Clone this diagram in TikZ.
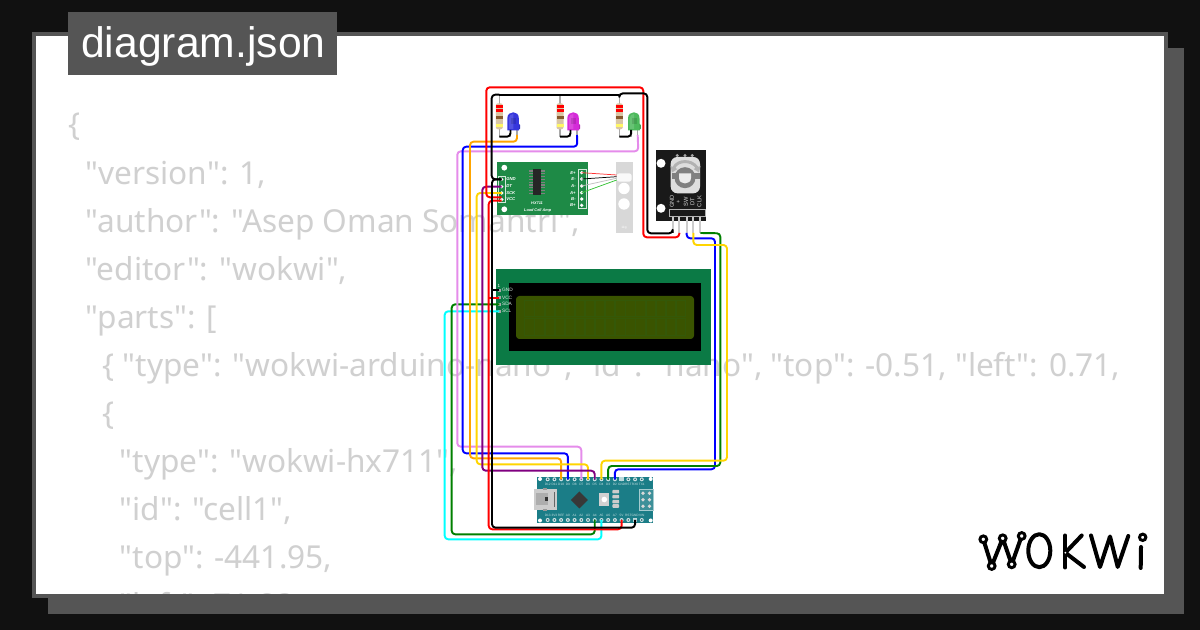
\documentclass[tikz,border=0pt]{standalone}
\usepackage{fontspec}
\setmainfont{Noto Sans}
\newfontfamily\jsonfont{Noto Sans}
\newfontfamily\tabfont{Liberation Sans}
\newfontfamily\tinyfont{Liberation Sans}
\definecolor{pagebg}{HTML}{111111}
\definecolor{framegray}{HTML}{555555}
\definecolor{jsongray}{HTML}{D0D0D0}
\definecolor{wRed}{HTML}{FF0000}
\definecolor{wOrange}{HTML}{FFA500}
\definecolor{wBlue}{HTML}{0000FF}
\definecolor{wPink}{HTML}{E58CEB}
\definecolor{wPurple}{HTML}{800080}
\definecolor{wYellow}{HTML}{FFD500}
\definecolor{wGreen}{HTML}{008000}
\definecolor{wCyan}{HTML}{00FFFF}
\definecolor{hxgreen}{HTML}{1E8A46}
\definecolor{lcdgreen}{HTML}{0B7A45}
\definecolor{lcdscreen}{HTML}{3A5400}
\definecolor{nanoteal}{HTML}{1B7D87}
\definecolor{cellgray}{HTML}{D8D8D8}
\definecolor{leadgray}{HTML}{A8A8A8}
\definecolor{resbody}{HTML}{D9C6A5}
\definecolor{ledblue}{HTML}{3636DC}
\definecolor{ledmagenta}{HTML}{D42BD8}
\definecolor{ledgreen}{HTML}{4DB95C}
\tikzset{
  wire/.style={line width=1.45pt,rounded corners=2.6pt,line join=round},
  thinwire/.style={line width=0.55pt},
  jsonline/.style={anchor=base west,inner sep=0pt,text=jsongray,font=\jsonfont\fontsize{23.7}{24}\selectfont},
  tinylabel/.style={inner sep=0pt,text=white!75!nanoteal,font=\tinyfont\fontsize{2.4}{2.6}\selectfont},
  hxlabel/.style={inner sep=0pt,text=white,font=\tinyfont\bfseries\itshape\fontsize{3.2}{3.4}\selectfont},
  lead/.style={draw=leadgray,line width=0.8pt},
  logo/.style={draw=black,line width=3pt,line cap=round,line join=round},
  logodot/.style={draw=black,fill=white,line width=2.2pt},
}
\newcommand{\jsonrow}[4]{\node[jsonline] (#1) at (#2,#3) {#4};}
\newcommand{\resistorpart}[2]{%
  \coordinate (#1top) at (#2,94.7);
  \coordinate (#1bot) at (#2,136.7);
  \draw[lead] (#1top) -- (#1bot);
  \fill[resbody,rounded corners=1.6pt] ({#2-3.5},103.3) rectangle ({#2+3.5},129.3);
  \fill[wRed] ({#2-3.5},105.2) rectangle ({#2+3.5},108.2);
  \fill[wRed] ({#2-3.5},109) rectangle ({#2+3.5},112);
  \fill[brown!70!black] ({#2-3.5},116) rectangle ({#2+3.5},119);
  \fill[yellow!60!white] ({#2-3.5},124) rectangle ({#2+3.5},127.2);
}
\newcommand{\ledpart}[3]{%
  \coordinate (#1c) at ({#2-2.8},130);
  \coordinate (#1a) at ({#2+3.7},135);
  \draw[lead] (#1c) -- ++(0,6.7);
  \draw[lead] ({#2+3.7},128) -- (#1a);
  \fill[#3!85!black] ({#2+5},123.5) -- ({#2+6.8},125) -- ({#2+6.8},128.5) -- ({#2+5},130.3) -- cycle;
  \fill[#3] ({#2-6},130.3) -- ({#2-6},118.3) .. controls ({#2-6},114.2) and ({#2-3},112.3) .. (#2,112.3) .. controls ({#2+3},112.3) and ({#2+5.5},114.2) .. ({#2+5.5},118.3) -- ({#2+5.5},130.3) -- cycle;
  \fill[white,opacity=.15] ({#2-4.5},129) -- ({#2-4.5},118.5) .. controls ({#2-4.5},115.5) and ({#2-2},114) .. (#2,114) -- (#2,129) -- cycle;
  \fill[black,opacity=.12] ({#2-2.5},118) rectangle ({#2+2.5},124);
}
\begin{document}
\begin{tikzpicture}[x=0.75pt,y=-0.75pt]
\useasboundingbox (0,0) rectangle (1200,630);
% page and frame
\fill[pagebg] (0,0) rectangle (1200,630);
\fill[framegray] (48,48) rectangle (1184,614);
\fill[framegray] (32,32) rectangle (1168,598);
\fill[white] (36,36) rectangle (1164,594);
\begin{scope}
\clip (36,36) rectangle (1164,594);
\jsonrow{j0}{68}{136}{\{}
\jsonrow{j1}{85.5}{184.2}{"version": 1,}
\jsonrow{j2}{85.5}{232.2}{"author": "Asep Oman Somantri",}
\jsonrow{j3}{85.5}{280.3}{"editor": "wokwi",}
\jsonrow{j4}{85.5}{328.4}{"parts": [}
\jsonrow{j5}{102.5}{376.5}{\{ "type": "wokwi-arduino-nano", "id": "nano", "top": -0.51, "left": 0.71,}
\jsonrow{j6}{102.5}{424.5}{\{}
\jsonrow{j7}{119.5}{472.5}{"type": "wokwi-hx711",}
\jsonrow{j8}{119.5}{520.5}{"id": "cell1",}
\jsonrow{j9}{119.5}{568.5}{"top": -441.95,}
\jsonrow{j10}{119.5}{616.5}{"left": 71.83,}
\end{scope}
\fill[framegray] (68,12) rectangle (337,75);
\node[anchor=base west,inner sep=0pt,text=white,font=\tabfont\fontsize{32}{33}\selectfont] (tabtitle) at (81,57.5) {diagram.json};
% ---- WOKWI logo
\draw[logo] (983.3,539.3) -- (991.7,566) -- (1002.7,538.3) -- (1011.7,564.3) -- (1021.7,536);
\draw[logodot] (983.3,539.3) circle (3.4);
\draw[logodot] (1002.7,538.3) circle (3.4);
\draw[logodot] (1021.7,536) circle (3.4);
\draw[logodot] (991.7,566) circle (3.4);
\draw[logodot] (1011.7,564.3) circle (3.4);
\draw[logo] (1039.3,550.7) ellipse (11 and 16.5);
\draw[logo] (1065.3,535.5) -- (1065.3,567.5);
\draw[logo] (1081.7,535.5) -- (1065.3,552.7) -- (1084,567);
\fill[white] (1065.3,552.7) circle (1);
\draw[logo] (1091,535.5) -- (1100,567) -- (1110,536.5) -- (1117.7,567) -- (1128.3,536);
\draw[logo] (1141,547) -- (1140.7,568);
\draw[logodot] (1142.7,537.3) circle (3.2);
% ---- HX711 board
\fill[hxgreen] (496.7,162.3) rectangle (587.7,215);
\fill[white] (504.3,167.7) circle (2.9);
\fill[white] (504.3,209.3) circle (2.9);
\draw[white!80!hxgreen,line width=.5pt] (498.3,176) rectangle (505,202.7);
\draw[white!80!hxgreen,line width=.5pt] (578.3,169.3) rectangle (586,208.3);
\foreach \lab/\yy in {G/179.3,D/186.7,S/193,V/199.5}{
  \coordinate (hx\lab) at (501.7,\yy);
  \fill[white] (hx\lab) circle (1.8);
}
\foreach \lab/\yy in {Ep/172.7,Em/179,Am/186,Ap/192.7,Bm/199,Bp/205.3}{
  \coordinate (hx\lab) at (581.7,\yy);
  \fill[white] (hx\lab) circle (1.8);
}
\node[hxlabel,anchor=west] (hxGl) at (506,179.3) {GND};
\node[hxlabel,anchor=west] (hxDl) at (506,186.2) {DT};
\node[hxlabel,anchor=west] (hxSl) at (506,193) {SCK};
\node[hxlabel,anchor=west] (hxVl) at (506,199.5) {VCC};
\node[hxlabel,anchor=east] (hxE1) at (576,172.7) {E+};
\node[hxlabel,anchor=east] (hxE2) at (576,179) {E-};
\node[hxlabel,anchor=east] (hxA1) at (576,186) {A-};
\node[hxlabel,anchor=east] (hxA2) at (576,192.7) {A+};
\node[hxlabel,anchor=east] (hxB1) at (576,199) {B-};
\node[hxlabel,anchor=east] (hxB2) at (576,205.3) {B+};
\node[hxlabel,font=\tinyfont\bfseries\itshape\fontsize{2.9}{3}\selectfont] (hxT1) at (537,203.5) {HX711};
\node[hxlabel,font=\tinyfont\bfseries\itshape\fontsize{2.9}{3}\selectfont] (hxT2) at (537.7,211) {Load Cell Amp};
\foreach \yy in {170.5,173.3,176.1,178.9,181.7,184.5,187.3,190.1,192.9}{
  \fill[gray] (529,\yy) rectangle (544.5,{\yy+1.2});
}
\fill[black!85] (533.3,169.3) rectangle (540.5,195);
% ---- load cell
\fill[cellgray] (615.7,161.7) rectangle (632.7,232.7);
\fill[white!95!gray,rounded corners=2pt] (616.7,173.3) rectangle (631.7,181.7);
\fill[white] (624,188.5) circle (5.7);
\fill[white] (624,204) circle (5.7);
\node[tinylabel,text=white] (cellkg) at (624,227.7) {1kg};
\coordinate (cE1) at (616.7,175);
\coordinate (cE2) at (616.7,176.7);
\coordinate (cA1) at (616.7,178.2);
\coordinate (cA2) at (616.7,180);
% ---- encoder
\fill[black!90] (656,150) rectangle (705.7,221);
\fill[white] (661,163.3) circle (4.5);
\fill[white] (661,208.3) circle (4.5);
\foreach \xx in {677.3,685,692.3}{\fill[gray!70] (\xx,155.5) circle (1.6);}
\fill[white!87!black,rounded corners=5pt] (670.7,157) rectangle (700,193.3);
\draw[gray!60,line width=2.2pt] (673.6,168) .. controls (676,163) and (681,161.6) .. (685,161.6);
\draw[gray!60,line width=2.2pt] (697.4,168) .. controls (694,163) and (689,161.6) .. (685,161.6);
\fill[gray!60] (670.5,166) -- (677.5,169) -- (672,172.5) -- cycle;
\fill[gray!60] (700.5,166) -- (693.5,169) -- (699,172.5) -- cycle;
\fill[black!50] (685,177.7) circle (10.5);
\fill[black!50] (671.5,173.3) rectangle (699.5,179);
\fill[white!92!black] (679,173.5) -- (691,173.5) -- (691,178) .. controls (691,181.5) and (688,183.5) .. (685,183.5) .. controls (682,183.5) and (679,181.5) .. (679,178) -- cycle;
\foreach \nm/\xx/\tx in {eG/672.7/GND,eP/679.3/+,eS/686.7/SW,eD/693.3/DT,eC/700.3/CLK}{
  \coordinate (\nm) at (\xx,233);
  \draw[white!80!black,line width=1.5pt] (\xx,216) -- (\nm);
  \node[inner sep=0pt,text=white!85!black,rotate=90,font=\tinyfont\fontsize{4.3}{5}\selectfont] (\nm t) at ({\xx-0.8},201.5) {\tx};
}
\draw[white!70!black,line width=.7pt] (669.3,209.3) rectangle (705,216.7);
% ---- LCD
\fill[lcdgreen] (496,268.7) rectangle (710.7,365);
\fill[black] (509,283.3) rectangle (700.7,351);
\fill[lcdscreen,rounded corners=2.5pt] (516,296) rectangle (694,339);
\foreach \i in {0,...,15}{
  \foreach \yy in {300,318.5}{
    \draw[lcdscreen!88!lcdgreen,line width=.25pt] ({524.5+\i*10.1},\yy) rectangle ({533.8+\i*10.1},{\yy+16.5});
  }
}
\foreach \nm/\yy/\tx in {lG/290.3/GND,lV/297.7/VCC,lD/304.3/SDA,lC/311.3/SCL}{
  \coordinate (\nm) at (499.3,\yy);
  \fill[white!65!black] (498,{\yy-1.4}) rectangle (501,{\yy+1.4});
  \node[tinylabel,anchor=west,text=white!85!lcdgreen,font=\tinyfont\fontsize{3.6}{4}\selectfont] (\nm t) at (501.8,\yy) {\tx};
}
\node[tinylabel,text=white,font=\tinyfont\fontsize{3.4}{4}\selectfont] (lcdone) at (499,285.7) {1};
% ---- Arduino Nano
\fill[nanoteal] (537.3,476.7) rectangle (653.3,523.3);
\foreach \px/\py in {540/479,650.7/479,540/520.5,650.7/520.5}{
  \fill[white] (\px,\py) circle (2);
}
\foreach \lab [count=\i from 0] in {D12,D11,D10,D9,D8,D7,D6,D5,D4,D3,D2,GND,RST,RX0,TX1}{
  \coordinate (n\lab) at ({547.7+6.72*\i},479.3);
  \fill[white!78!nanoteal] (n\lab) circle (2);
  \fill[nanoteal!70!black] (n\lab) circle (.8);
  \node[tinylabel] (nl\lab) at ({547.7+6.72*\i},484.5) {\lab};
}
\foreach \lab/\tx [count=\i from 0] in {D13/D13,3V3/3V3,REF/REF,A0/A0,A1/A1,A2/A2,A3/A3,A4/A4,A5/A5,A6/A6,A7/A7,5V/5V,RST2/RST,GND2/GND,VIN/VIN}{
  \coordinate (n\lab) at ({547.7+6.72*\i},520);
  \fill[white!78!nanoteal] (n\lab) circle (2);
  \fill[nanoteal!70!black] (n\lab) circle (.8);
  \node[tinylabel] (nb\lab) at ({547.7+6.72*\i},515) {\tx};
}
\fill[white!70!nanoteal] (619.4,477) rectangle (623.8,481.5);
\fill[white!70!nanoteal] (632.8,517.8) rectangle (637.2,522.2);
% USB
\fill[white!80!black] (534.3,489) rectangle (556.7,510);
\fill[white!60!black] (543,487.8) rectangle (546.5,490);
\fill[white!60!black] (543,509) rectangle (546.5,511.2);
\fill[white!68!black] (536,493.5) rectangle (547.5,505.5);
\fill[black!80] (544.5,497.5) rectangle (548,501.5);
\fill[black!60] (553.5,492) rectangle (554.6,507);
% MCU
\fill[black!78] (579.3,491.5) -- (587.8,500) -- (579.3,508.5) -- (570.8,500) -- cycle;
% button
\fill[white!82!black] (599.3,493) rectangle (609.3,506);
\fill[white] (604.3,499.5) circle (2.8);
% small parts
\foreach \yy in {491.7,496.7,501.7,506}{\fill[white!80!black,rounded corners=.6pt] (612.3,{\yy-1.8}) rectangle (619.2,{\yy+1.8});}
% ICSP
\draw[white!60!nanoteal,line width=.5pt,fill=nanoteal!85!white] (639.3,489.3) rectangle (653,510);
\foreach \xx in {643,649.5}{\foreach \yy in {493.3,499.7,506.2}{\fill[white!85!black] (\xx,\yy) circle (1.9);}}
% ---- resistors and LEDs
\resistorpart{r1}{499.3}
\resistorpart{r2}{560}
\resistorpart{r3}{619.3}
\ledpart{d1}{513.3}{ledblue}
\ledpart{d2}{573.3}{ledmagenta}
\ledpart{d3}{634}{ledgreen}
% ---- load cell thin wires
\draw[thinwire,red!80!white] (hxEp) -- (cE1);
\draw[thinwire,black] (hxEm) -- (cE2);
\draw[thinwire,white!75!black] (hxAm) -- (cA1);
\draw[thinwire,green!70!black!80!white] (hxAp) -- (cA2);
% ---- wires
\draw[wire,black] (r1bot) -- (d1c |- r1bot) -- (d1c);
\draw[wire,black] (r2bot) -- (d2c |- r2bot) -- (d2c);
\draw[wire,black] (r3bot) -- (d3c |- r3bot) -- (d3c);
\draw[wire,wCyan] (lC) -- (444.7,311.3) -- (444.7,539.3) -- (nA5 |- 0,539.3) -- (nA5);
\draw[wire,wGreen] (lD) -- (451.7,304.3) -- (451.7,534.3) -- (nA4 |- 0,534.3) -- (nA4);
\draw[wire,wPink] (d3a) -- (638.3,151.3) -- (457.3,151.3) -- (457.3,446.7) -- (nD7 |- 0,446.7) -- (nD7);
\draw[wire,wBlue] (d2a) -- (577.3,146.7) -- (462.7,146.7) -- (462.7,453.3) -- (nD9 |- 0,453.3) -- (nD9);
\draw[wire,wOrange] (d1a) -- (517,141.7) -- (470,141.7) -- (470,458.3) -- (nD10 |- 0,458.3) -- (nD10);
\draw[wire,wYellow] (hxS) -- (476.7,193) -- (476.7,464.3) -- (nD6 |- 0,464.3) -- (nD6);
\draw[wire,wPurple] (hxD) -- (482.3,186.7) -- (482.3,470.7) -- (nD5 |- 0,470.7) -- (nD5);
\draw[wire,wRed] (hxV) ++(0,-2.2) -- (486.3,197.3) -- (486.3,87.3) -- (643.3,87.3) -- (643.3,237.3) -- (eP |- 0,237.3) -- (eP);
\draw[wire,wRed] (hxV) ++(0,1.2) -- (488.7,200.7) -- (488.7,529.3) -- (n5V |- 0,529.3) -- (n5V);
\draw[wire,wRed] (lV) -- (489,297.7);
\draw[wire,black] (hxG) -- (491.7,179.3) -- (491.7,94.7) -- (r1top);
\draw[wire,black] (r1top) -- (r2top) -- (r3top);
\draw[wire,black] (r3top) -- (619.3,93.4) -- (647.3,93.4) -- (647.3,233.3) -- (eG |- 0,233.3) -- (eG);
\draw[wire,black] (hxG) -- (492,179.3) -- (492,527.7) -- (nGND2 |- 0,527.7) -- (nGND2);
\draw[wire,black] (lG) -- (492,290.3);
\draw[wire,wBlue] (eS) -- (686.7,238.3) -- (715,238.3) -- (715,469.3) -- (nD2 |- 0,469.3) -- (nD2);
\draw[wire,wGreen] (eC) -- (720.3,233.3) -- (720.3,466) -- (nD3 |- 0,466) -- (nD3);
\draw[wire,wYellow] (eD) -- (693.3,245) -- (727,245) -- (727,460.7) -- (nD4 |- 0,460.7) -- (nD4);
\end{tikzpicture}
\end{document}
